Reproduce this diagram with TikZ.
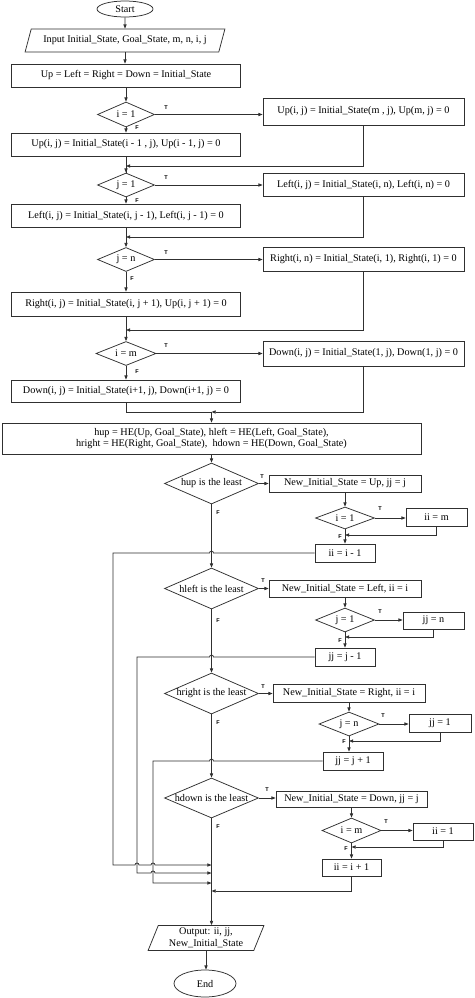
\documentclass[tikz,border=0pt]{standalone}
\usepackage{fontspec}
\setmainfont{Liberation Serif}
\newfontfamily\labfont{Liberation Sans}
\usetikzlibrary{shapes.geometric,arrows.meta}
\definecolor{lc}{HTML}{303030}
\begin{document}
\begin{tikzpicture}[x=1pt,y=-1pt,
  every node/.style={font=\fontsize{10.2}{11.5}\selectfont, inner sep=0pt, text=black},
  ln/.style={draw=lc, line width=0.75pt},
  arr/.style={ln, -{Triangle[length=4.2pt,width=3.2pt]}},
  box/.style 2 args={draw=lc, line width=0.75pt, rectangle, minimum width=#1, minimum height=#2},
  dia/.style 2 args={draw=lc, line width=0.75pt, diamond, aspect=2.3, minimum width=#1, minimum height=#2},
  io/.style={draw=lc, line width=0.75pt, trapezium, trapezium stretches=true, align=center},
  term/.style 2 args={draw=lc, line width=0.75pt, ellipse, minimum width=#1, minimum height=#2},
  lab/.style={font=\labfont\bfseries\fontsize{5.5}{5.5}\selectfont}
]
\fill[white] (0,0) rectangle (474,998);
\useasboundingbox (0,0) rectangle (474,998);

% ---------- top part ----------
\node[term={56}{16}] (start) at (125,9) {Start};
\node[io, trapezium left angle=60, trapezium right angle=120, minimum width=200, minimum height=23] (input) at (125,40.5) {Input Initial\_State, Goal\_State, m, n, i, j};
\node[box={229}{23}] (init) at (126,75.5) {Up = Left = Right = Down = Initial\_State};

\node[dia={57}{25}] (d1) at (126,114.5) {i = 1};
\node[box={201}{27}] (r1) at (363.5,111.5) {Up(i, j) = Initial\_State(m , j), Up(m, j) = 0};
\node[box={229}{23}] (l1) at (126,144.5) {Up(i, j) = Initial\_State(i - 1 , j), Up(i - 1, j) = 0};
\coordinate (m1) at (126,166);

\node[dia={57}{24}] (d2) at (126,185) {j = 1};
\node[box={201}{23}] (r2) at (363.5,184.5) {Left(i, j) = Initial\_State(i, n), Left(i, n) = 0};
\node[box={229}{23}] (l2) at (126,215.5) {Left(i, j) = Initial\_State(i, j - 1), Left(i, j - 1) = 0};
\coordinate (m2) at (126,237);

\node[dia={57}{24}] (d3) at (126,259.5) {j = n};
\node[box={201}{24}] (r3) at (363.5,259) {Right(i, n) = Initial\_State(i, 1), Right(i, 1) = 0};
\node[box={229}{24}] (l3) at (126,304) {Right(i, j) = Initial\_State(i, j + 1), Up(i, j + 1) = 0};
\coordinate (m3) at (126,330);

\node[dia={60}{24}] (d4) at (126,353.5) {i = m};
\node[box={201}{25}] (r4) at (363.5,353.5) {Down(i, j) = Initial\_State(1, j), Down(1, j) = 0};
\node[box={229}{22}] (l4) at (126,391) {Down(i, j) = Initial\_State(i+1, j), Down(i+1, j) = 0};
\coordinate (m4) at (211.5,412);

\node[box={419}{31}, align=center] (he) at (211.5,438.5) {hup = HE(Up, Goal\_State), hleft = HE(Left, Goal\_State),\\ hright = HE(Right, Goal\_State), \ hdown = HE(Down, Goal\_State)};

\draw[arr] (start) -- (input);
\draw[arr] (input.south) -- (input.south |- init.north);
\draw[arr] (init.south) -- (d1.north);

\draw[arr] (d1.east) -- (d1.east -| r1.west);
\draw[arr] (d1.south) -- (l1.north);
\draw[ln] (l1.south) -- (d2.north);
\draw[arr] (m1) -- (d2.north);
\draw[arr] (r1.south) |- (m1);
\node[lab] (t1) at (166,108) {T};
\node[lab] (f1) at (137,128) {F};

\draw[arr] (d2.east) -- (d2.east -| r2.west);
\draw[arr] (d2.south) -- (l2.north);
\draw[ln] (l2.south) -- (m2);
\draw[arr] (m2) -- (d3.north);
\draw[arr] (r2.south) |- (m2);
\node[lab] (t2) at (166,178) {T};
\node[lab] (f2) at (137,200.5) {F};

\draw[arr] (d3.east) -- (d3.east -| r3.west);
\draw[arr] (d3.south) -- (l3.north);
\draw[ln] (l3.south) -- (m3);
\draw[arr] (m3) -- (d4.north);
\draw[arr] (r3.south) |- (m3);
\node[lab] (t3) at (166,253) {T};
\node[lab] (f3) at (132,279) {F};

\draw[arr] (d4.east) -- (d4.east -| r4.west);
\draw[arr] (d4.south) -- (l4.north);
\draw[ln] (l4.south) |- (m4);
\draw[arr] (r4.south) |- (m4);
\draw[arr] (m4) -- (he.north);
\node[lab] (t4) at (166,346) {T};
\node[lab] (f4) at (137,372) {F};

% ---------- lower part ----------
\node[dia={94}{41}] (hup) at (211.5,483.5) {hup is the least};
\node[box={152}{17}] (nu) at (345,483.5) {New\_Initial\_State = Up, jj = j};
\node[dia={59}{22}] (di1) at (345,518) {i = 1};
\node[box={61}{18}] (iim) at (436.5,517) {ii = m};
\node[box={60}{18}] (iii) at (345,553) {ii = i - 1};
\coordinate (c1) at (345,535);

\node[dia={94}{41}] (hleft) at (211.5,588.5) {hleft is the least};
\node[box={152}{17}] (nl) at (345,588.5) {New\_Initial\_State = Left, ii = i};
\node[dia={59}{24}] (dj1) at (345,620) {j = 1};
\node[box={61}{17}] (jjn) at (433.5,620.5) {jj = n};
\node[box={60}{18}] (jjm1) at (345,657) {jj = j - 1};
\coordinate (c2) at (345,637);

\node[dia={94}{41}] (hright) at (211.5,693.5) {hright is the least};
\node[box={152}{18}] (nr) at (349,693) {New\_Initial\_State = Right, ii = i};
\node[dia={60}{24}] (djn) at (349,724) {j = n};
\node[box={62}{18}] (jj1) at (440,723) {jj = 1};
\node[box={60}{18}] (jjp1) at (353,761) {jj = j + 1};
\coordinate (c3) at (349,741);

\node[dia={94}{40}] (hdown) at (211.5,798) {hdown is the least};
\node[box={151}{16}] (nd) at (351.5,799.5) {New\_Initial\_State = Down, jj = j};
\node[dia={59}{25}] (dim) at (351.5,830.5) {i = m};
\node[box={60}{17}] (ii1) at (443,831.5) {ii = 1};
\node[box={59}{17}] (iip1) at (351.5,867.5) {ii = i + 1};
\coordinate (c4) at (351.5,847);

\node[io, trapezium left angle=68, trapezium right angle=112, minimum width=116, minimum height=25] (out) at (206,938) {Output: ii, jj,\\ New\_Initial\_State};
\node[term={62}{27}] (end) at (205,983.5) {End};

\coordinate (j1) at (211.5,865);
\coordinate (j2) at (211.5,873);
\coordinate (j3) at (211.5,883);
\coordinate (j4) at (211.5,891);

% main spine
\draw[arr] (he.south) -- (hup.north);
\draw[arr] (hup.south) -- (hleft.north);
\draw[arr] (hleft.south) -- (hright.north);
\draw[arr] (hright.south) -- (hdown.north);
\draw[arr] (hdown.south) -- (hdown.south |- out.north);
\draw[arr] (out.south) -- (out.south |- end.north);

% hup branch
\draw[arr] (hup.east) -- (nu.west);
\draw[arr] (nu.south) -- (di1.north);
\draw[arr] (di1.east) -- (di1.east -| iim.west);
\draw[arr] (iim.south) |- (c1);
\draw[arr] (di1.south) -- (iii.north);
\node[lab] (t5) at (262,477) {T};
\node[lab] (f5) at (218,513) {F};
\node[lab] (t6) at (380,509) {T};
\node[lab] (f6) at (340,537) {F};

% hleft branch
\draw[arr] (hleft.east) -- (nl.west);
\draw[arr] (nl.south) -- (dj1.north);
\draw[arr] (dj1.east) -- (dj1.east -| jjn.west);
\draw[arr] (jjn.south) |- (c2);
\draw[arr] (dj1.south) -- (jjm1.north);
\node[lab] (t7) at (263,581) {T};
\node[lab] (f7) at (218,621) {F};
\node[lab] (t8) at (380,612) {T};
\node[lab] (f8) at (340,641) {F};

% hright branch
\draw[arr] (hright.east) -- (hright.east -| nr.west);
\draw[arr] (nr.south) -- (djn.north);
\draw[arr] (djn.east) -- (djn.east -| jj1.west);
\draw[arr] (jj1.south) |- (c3);
\draw[arr] (djn.south) -- (djn.south |- jjp1.north);
\node[lab] (t9) at (263,687) {T};
\node[lab] (f9) at (218,723) {F};
\node[lab] (t10) at (383,716) {T};
\node[lab] (f10) at (344,742) {F};

% hdown branch
\draw[arr] (hdown.east) -- (hdown.east -| nd.west);
\draw[arr] (nd.south) -- (dim.north);
\draw[arr] (dim.east) -- (dim.east -| ii1.west);
\draw[arr] (ii1.south) |- (c4);
\draw[arr] (dim.south) -- (iip1.north);
\draw[arr] (iip1.south) |- (j4);
\node[lab] (t11) at (267,790) {T};
\node[lab] (f11) at (218,827) {F};
\node[lab] (t12) at (386,822) {T};
\node[lab] (f12) at (346,849) {F};

% return lines with line hops
\draw[arr] (iii.west) -- (213.5,553) arc[start angle=0,end angle=180,radius=2pt]
  -- (113,553) -- (113,865) -- (135,865) arc[start angle=180,end angle=0,radius=2pt]
  -- (151,865) arc[start angle=180,end angle=0,radius=2pt] -- (j1);
\draw[arr] (jjm1.west) -- (213.5,657) arc[start angle=0,end angle=180,radius=2pt]
  -- (137,657) -- (137,873) -- (151,873) arc[start angle=180,end angle=0,radius=2pt] -- (j2);
\draw[arr] (jjp1.west) -- (213.5,761) arc[start angle=0,end angle=180,radius=2pt]
  -- (153,761) -- (153,883) -- (j3);
\end{tikzpicture}
\end{document}
